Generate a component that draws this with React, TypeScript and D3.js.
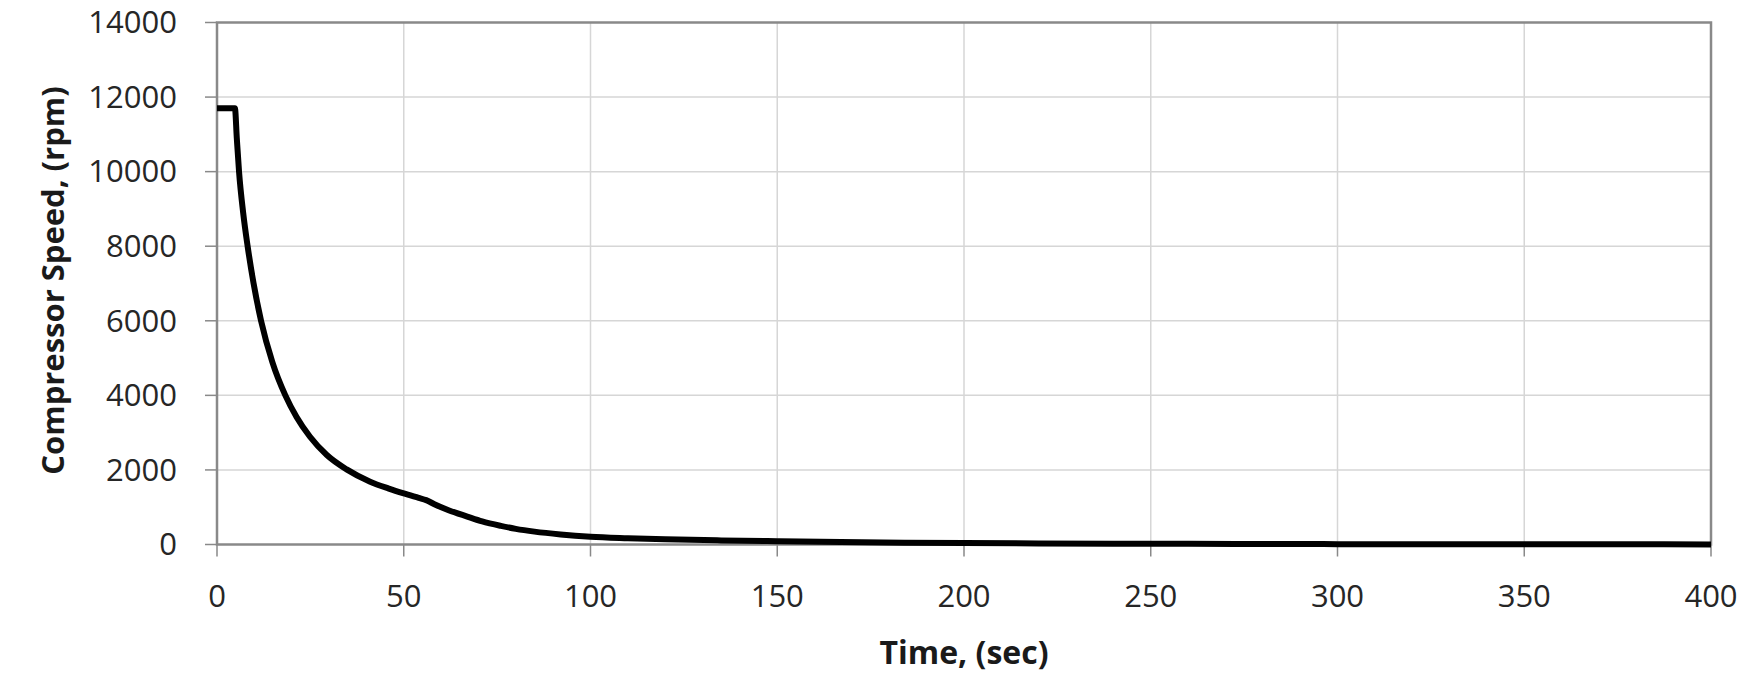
import * as d3 from 'd3'

// Compressor coast-down
const timeSec = [
  0, 4.8, 5.3, 5.9, 7, 8.2, 9.8, 11.8, 14.8, 18.3, 21.3, 24.9, 29.4, 34.7, 41, 46, 50, 54, 56, 58.2, 62,
  67, 71, 76, 80, 85, 92, 100, 110, 120, 135, 150, 167, 184, 200, 220, 240, 260, 280, 300, 325, 350, 375,
  400,
]
const speedRpm = [
  11700, 11700, 10900, 10000, 8900, 8000, 7000, 6000, 4900, 4000, 3420, 2890, 2400, 2015, 1685, 1500, 1370,
  1250, 1190, 1080, 920, 750, 620, 500, 420, 345, 270, 210, 170, 140, 110, 88, 66, 50, 40, 30, 23, 18, 14,
  10, 7, 5, 4, 3,
]
const xTicks = [0, 50, 100, 150, 200, 250, 300, 350, 400]
const yTicks = [0, 2000, 4000, 6000, 8000, 10000, 12000, 14000]

const WIDTH = 1750
const HEIGHT = 696
const PLOT = { left: 217, right: 1711, top: 22.5, bottom: 544.5 }
const FONT = '"Open Sans", "Liberation Sans", sans-serif'

export default function App() {
  const x = d3.scaleLinear().domain([0, 400]).range([PLOT.left, PLOT.right])
  const y = d3.scaleLinear().domain([0, 14000]).range([PLOT.bottom, PLOT.top])

  const points = timeSec.map((t, i) => [t, speedRpm[i]] as [number, number])
  const line = d3
    .line<[number, number]>()
    .x((d) => x(d[0]))
    .y((d) => y(d[1]))
    .curve(d3.curveMonotoneX)

  const axisColor = '#898989'
  const gridColor = '#d6d6d6'

  return (
    <div style={{ position: 'absolute', left: 0, top: 0 }}>
      <svg width={WIDTH} height={HEIGHT} style={{ display: 'block', background: '#fff' }}>
        {/* gridlines */}
        {yTicks.slice(1, -1).map((v) => (
          <line key={'gy' + v} x1={PLOT.left} x2={PLOT.right} y1={y(v)} y2={y(v)} stroke={gridColor} strokeWidth={1.5} />
        ))}
        {xTicks.slice(1, -1).map((v) => (
          <line key={'gx' + v} x1={x(v)} x2={x(v)} y1={PLOT.top} y2={PLOT.bottom} stroke={gridColor} strokeWidth={1.5} />
        ))}

        {/* plot frame */}
        <rect
          x={PLOT.left}
          y={PLOT.top}
          width={PLOT.right - PLOT.left}
          height={PLOT.bottom - PLOT.top}
          fill="none"
          stroke={axisColor}
          strokeWidth={2.5}
        />

        {/* y ticks + labels */}
        {yTicks.map((v) => (
          <g key={'ty' + v}>
            <line x1={PLOT.left - 12} x2={PLOT.left} y1={y(v)} y2={y(v)} stroke={axisColor} strokeWidth={1.5} />
            <text
              x={177}
              y={y(v)}
              dy="0.35em"
              textAnchor="end"
              fontFamily={FONT}
              fontSize={31}
              fill="#262626"
            >
              {v}
            </text>
          </g>
        ))}

        {/* x ticks + labels */}
        {xTicks.map((v) => (
          <g key={'tx' + v}>
            <line x1={x(v)} x2={x(v)} y1={PLOT.bottom} y2={PLOT.bottom + 12} stroke={axisColor} strokeWidth={1.5} />
            <text x={x(v)} y={607} textAnchor="middle" fontFamily={FONT} fontSize={31} fill="#262626">
              {v}
            </text>
          </g>
        ))}

        {/* series */}
        <path d={line(points) ?? ''} fill="none" stroke="#000" strokeWidth={6} strokeLinejoin="miter" />

        {/* axis titles */}
        <text
          x={(PLOT.left + PLOT.right) / 2}
          y={664}
          textAnchor="middle"
          fontFamily={FONT}
          fontSize={32}
          fontWeight="bold"
          fill="#1a1a1a"
        >
          Time, (sec)
        </text>
        <text
          transform={`translate(64, ${(PLOT.top + PLOT.bottom) / 2 - 3}) rotate(-90)`}
          textAnchor="middle"
          fontFamily={FONT}
          fontSize={31}
          fontWeight="bold"
          fill="#1a1a1a"
        >
          Compressor Speed, (rpm)
        </text>
      </svg>
    </div>
  )
}
